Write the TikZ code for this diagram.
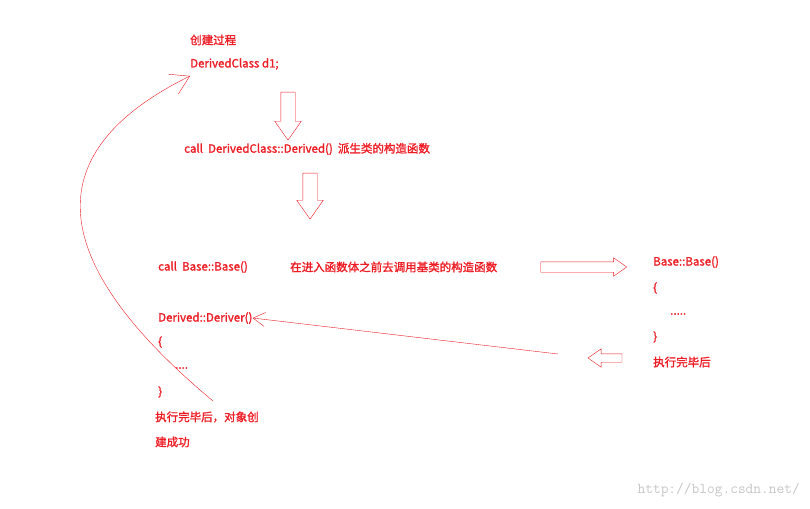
\documentclass[tikz,border=0pt]{standalone}
\usepackage{fontspec}
\setmainfont{Noto Sans CJK SC}[AutoFakeBold=1.6]
\usetikzlibrary{shapes.arrows,arrows.meta}
\definecolor{lred}{RGB}{237,28,36}
\tikzset{
  txt/.style={anchor=west,inner sep=0pt,text=lred,font=\bfseries\fontsize{11.5}{12}\selectfont},
  blk/.style={single arrow,draw=lred,thin,single arrow head extend=6pt,
    inner xsep=0pt,inner ysep=7pt,single arrow tip angle=70},
  pen/.style={draw=lred,thin}
}
\begin{document}
\begin{tikzpicture}[x=1pt,y=-1pt]
\useasboundingbox (0,0) rectangle (810,508);

\node[txt] (title) at (190,40) {创建过程};
\node[txt] (decl) at (190,64) {DerivedClass d1;};
\node[blk,rotate=-90,minimum height=48pt] (down1) at (288,111) {};
\node[txt] (calld) at (184,149) {call\ \ DerivedClass::Derived()\ \ 派生类的构造函数};
\node[blk,rotate=-90,minimum height=46pt] (down2) at (310,191) {};

\node[txt] (callb) at (158,267) {call\ \ Base::Base()};
\node[txt] (note) at (290,267) {在进入函数体之前去调用基类的构造函数};
\node[blk,minimum height=86pt,inner ysep=5pt,single arrow head extend=4pt] (right1) at (580,267) {};

\node[txt] (base) at (653,262) {Base::Base()};
\node[txt] (bopen) at (653,288) {\{};
\node[txt] (bdots) at (670,314) {.....};
\node[txt] (bclose) at (653,337) {\}};
\node[txt] (bdone) at (653,362) {执行完毕后};
\node[blk,shape border rotate=180,minimum height=34pt,inner ysep=4pt,single arrow head extend=5pt] (left1) at (608,358) {};

\node[txt] (der) at (158,318) {Derived::Deriver()};
\node[txt] (dopen) at (158,342) {\{};
\node[txt] (ddots) at (175,368) {....};
\node[txt] (dclose) at (158,392) {\}};
\node[txt] (ddone) at (155,417) {执行完毕后，对象创};
\node[txt] (ddone2) at (155,442) {建成功};

\coordinate (back) at (558,354);
\coordinate (bottom) at (213,401);
\draw[pen,-{Straight Barb[length=12pt,width=14pt]}] (back) -- (der.east);
\draw[pen,-{Straight Barb[length=18pt,width=22pt]}] (bottom) .. controls (20,240) and (60,140) .. (title.west |- 0,76);
\node[anchor=east,inner sep=0pt,text=gray!45,font=\ttfamily\fontsize{15}{16}\selectfont] (mark) at (800,490) {http://blog.csdn.net/};
\end{tikzpicture}
\end{document}
